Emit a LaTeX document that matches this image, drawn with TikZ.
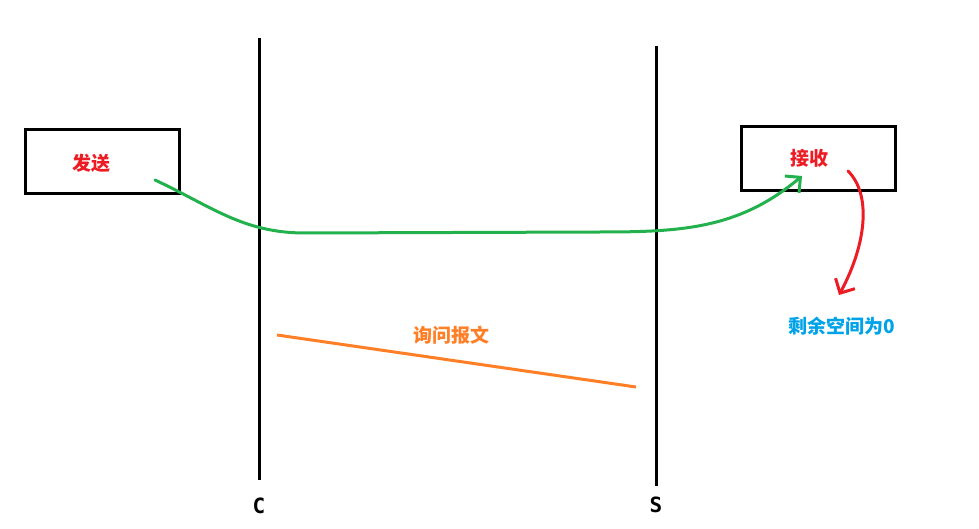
\documentclass[tikz,border=0pt]{standalone}
\usepackage{fontspec}
\usetikzlibrary{arrows.meta}
\newfontfamily\cjk{Noto Sans CJK SC}
\newfontfamily\monofam{DejaVu Sans Mono}
\definecolor{PenGreen}{HTML}{22B14C}
\definecolor{PenRed}{HTML}{ED1C24}
\definecolor{PenOrange}{HTML}{FF7F27}
\definecolor{PenBlue}{HTML}{00A2E8}
\tikzset{
  hostbox/.style={draw=black, line width=3pt, minimum width=154pt, minimum height=64pt, inner sep=0pt},
  lbl/.style={font=\cjk\bfseries\fontsize{19}{21}\selectfont, inner sep=0pt},
  endlbl/.style={font=\monofam\bfseries\fontsize{21}{23}\selectfont, inner sep=0pt},
  life/.style={line width=3pt, draw=black},
  pen/.style={line width=3pt, line cap=round},
  barb/.style={-{Straight Barb[length=11pt, width=22pt, line width=3pt]}}
}
\begin{document}
\begin{tikzpicture}[x=1pt,y=-1pt]
\useasboundingbox (0,0) rectangle (979,529);
% lifelines
\coordinate (ctop) at (259,38);
\coordinate (cbot) at (259,480);
\coordinate (stop) at (656,46);
\coordinate (sbot) at (656,486);
\draw[life] (ctop) -- (cbot);
\draw[life] (stop) -- (sbot);
\node[endlbl] (clbl) at (259,506) {C};
\node[endlbl] (slbl) at (656,505) {S};
% hosts
\node[hostbox] (send) at (102,162) {};
\node[hostbox] (recv) at (818,158.5) {};
\node[lbl, text=PenRed] (sendtxt) at (91,163) {发送};
\node[lbl, text=PenRed] (recvtxt) at (809,158) {接收};
% transfer
\coordinate (g0) at (155,180);
\coordinate (g1) at (802,176);
\draw[pen, barb, draw=PenGreen] (g0) to[out=-25,in=180] (305,233) -- (600,232) to[out=0,in=-140] (g1);
% window full
\coordinate (r0) at (848,171);
\coordinate (r1) at (839,295);
\draw[pen, barb, draw=PenRed] (r0) .. controls (872,195) and (866,245) .. (r1);
\node[lbl, text=PenBlue] (wintxt) at (842,326) {剩余空间为0};
% probe
\coordinate (q0) at (277,335);
\coordinate (q1) at (636,387);
\draw[pen, draw=PenOrange, line cap=butt] (q0) -- (q1);
\node[lbl, text=PenOrange] (probetxt) at (451,335) {询问报文};
\end{tikzpicture}
\end{document}
